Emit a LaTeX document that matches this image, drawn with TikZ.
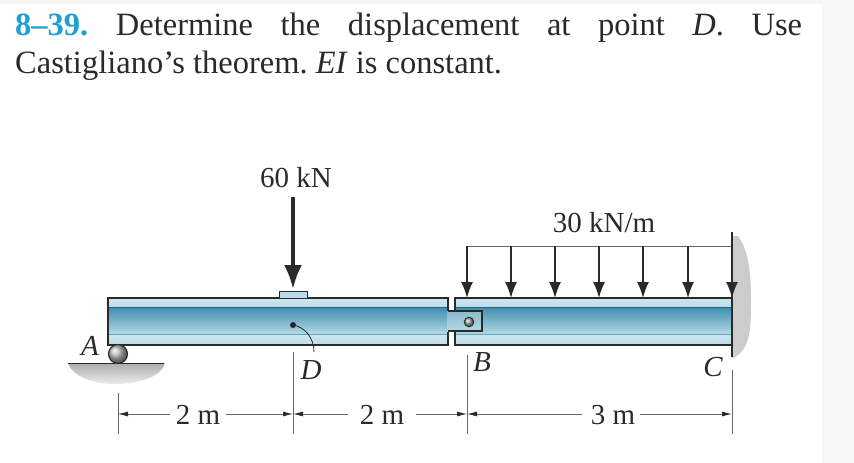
\documentclass[tikz,border=0pt]{standalone}
\usepackage{fontspec}
\setmainfont{Liberation Serif}
\usetikzlibrary{arrows.meta}
\definecolor{pagegray}{HTML}{F6F6F6}
\definecolor{inkdark}{HTML}{2A2A2A}
\definecolor{probblue}{HTML}{1E9FD6}
\definecolor{flange}{HTML}{BBDDE8}
\definecolor{webdark}{HTML}{3E8DAE}
\definecolor{weblight}{HTML}{B4D9E4}
\definecolor{dimgray}{HTML}{666666}
\tikzset{
  headline/.style={anchor=base west,inner sep=0pt,font=\fontsize{32.5}{38}\selectfont\frenchspacing,text=inkdark},
  dimtext/.style={inner sep=0pt,font=\fontsize{29}{32}\selectfont,text=inkdark},
  ptlabel/.style={inner sep=0pt,font=\fontsize{29}{32}\selectfont\itshape,text=inkdark},
  beamedge/.style={draw=inkdark,line width=1.3pt},
  flangefill/.style={top color=flange!70!white,bottom color=flange},
  webfill/.style={top color=webdark,bottom color=weblight},
  tick/.style={draw=dimgray,line width=0.9pt},
  loadarrow/.style={draw=inkdark,line width=1.5pt,-{Latex[length=16pt,width=12pt]}},
  bigarrow/.style={draw=inkdark,line width=3.6pt,-{Latex[length=24pt,width=18pt]}},
  dimline/.style={draw=dimgray,line width=0.9pt},
  dimtipL/.style={{Latex[length=10pt,width=5pt,color=inkdark]}-},
  dimtipR/.style={-{Latex[length=10pt,width=5pt,color=inkdark]}}
}
\begin{document}
\begin{tikzpicture}[x=1pt,y=-1pt]
\useasboundingbox (0,0) rectangle (854,463);
\fill[pagegray] (0,0) rectangle (854,463);
\fill[white] (0,4) rectangle (822,463);
% heading
\node[headline] (line1) at (15,35) {\makebox[787pt][s]{\textcolor{probblue}{\textbf{8–39.}} Determine the displacement at point \textit{D}. Use}};
\node[headline] (line2) at (15,73) {Castigliano’s theorem. \textit{EI} is constant.};
% wall
\fill[gray!40] (732,236) -- (738,236) .. controls (748,250) and (751,270) .. (751,300) .. controls (751,330) and (750,350) .. (733,358) -- (732,358) -- cycle;
% ground
\shade[top color=gray!65,bottom color=gray!15] (68,363) -- (165,363) .. controls (162,376) and (140,384) .. (115,384) .. controls (92,384) and (72,376) .. (68,363) -- cycle;
% left beam
\shade[flangefill] (108,298) rectangle (448,307);
\shade[webfill] (108,307) rectangle (448,334);
\shade[flangefill] (108,334) rectangle (448,345);
% right beam
\shade[flangefill] (455,298) rectangle (732,307);
\shade[webfill] (455,307) rectangle (732,334);
\shade[flangefill] (455,334) rectangle (732,345);
\draw[draw=webdark!70!black,line width=0.9pt] (108,307) -- (448,307) (455,307) -- (732,307);
\draw[draw=webdark!80!white,line width=0.9pt] (108,334) -- (448,334) (455,334) -- (732,334);
\draw[beamedge] (448,311) -- (448,298) -- (108,298) -- (108,345) -- (448,345) -- (448,331);
\draw[beamedge] (455,311) -- (455,298) -- (732,298) (732,345) -- (455,345) -- (455,331);
% tab
\shade[top color=webdark!60!white,bottom color=weblight] (447,311.5) rectangle (482,331);
\draw[beamedge] (448,311) -- (482,311) -- (482,331) -- (448,331);
\shade[ball color=gray!70] (469,322) circle (4.5pt);
\draw[inkdark,line width=0.9pt] (469,322) circle (4.8pt);
% wall line
\coordinate (wallT) at (732,232);
\coordinate (wallB) at (732,357);
\draw[inkdark,line width=1.5pt] (wallT) -- (wallB);
% roller
\shade[ball color=gray!55] (118,354) circle (9.5pt);
\draw[inkdark,line width=1.1pt] (118,354) circle (9.5pt);
\coordinate (gL) at (68,363);
\coordinate (gR) at (164,363);
\draw[inkdark,line width=1pt] (gL) -- (gR);
% plate and 60 kN
\filldraw[fill=flange,draw=inkdark,line width=0.7pt] (279,298) -- (279,291) -- (307,291) -- (307,298);
\coordinate (pTop) at (293,197);
\coordinate (pEnd) at (293,289);
\draw[bigarrow] (pTop) -- (pEnd);
% point D
\coordinate (dDot) at (293,325);
\coordinate (dEnd) at (314,352);
\fill[black!85] (dDot) circle (3pt);
\draw[inkdark,line width=0.8pt] (dDot) .. controls (305,327) and (314,338) .. (dEnd);
% distributed load
\coordinate (l0) at (467,246);
\coordinate (l1) at (511,246);
\coordinate (l2) at (555,246);
\coordinate (l3) at (599,246);
\coordinate (l4) at (643,246);
\coordinate (l5) at (688,246);
\coordinate (l6) at (732,246);
\coordinate (b0) at (467,298);
\coordinate (b1) at (511,298);
\coordinate (b2) at (555,298);
\coordinate (b3) at (599,298);
\coordinate (b4) at (643,298);
\coordinate (b5) at (688,298);
\coordinate (b6) at (732,298);
\draw[draw=dimgray,line width=1pt] (l0) -- (l6);
\foreach \i in {0,...,6} \draw[loadarrow] (l\i) -- (b\i);
% dimension ticks
\coordinate (tA1) at (118,393); \coordinate (tA2) at (118,434);
\coordinate (tD1) at (293,352); \coordinate (tD2) at (293,434);
\coordinate (tB1) at (467,355); \coordinate (tB2) at (467,434);
\coordinate (tC1) at (732,370); \coordinate (tC2) at (732,434);
\draw[tick] (tA1) -- (tA2);
\draw[tick] (tD1) -- (tD2);
\draw[tick] (tB1) -- (tB2);
\draw[tick] (tC1) -- (tC2);
% dimension labels
\node[dimtext] (dim1) at (198,415) {2 m};
\node[dimtext] (dim2) at (382,415) {2 m};
\node[dimtext] (dim3) at (613,415) {3 m};
\coordinate (aA) at (118,414); \coordinate (aD) at (293,414);
\coordinate (aB) at (467,414); \coordinate (aC) at (732,414);
\coordinate (d1a) at (170,414); \coordinate (d1b) at (226,414);
\coordinate (d2a) at (348,414); \coordinate (d2b) at (416,414);
\coordinate (d3a) at (582,414); \coordinate (d3b) at (640,414);
% dimension lines
\draw[dimline,dimtipL] (aA) -- (d1a);
\draw[dimline,dimtipR] (d1b) -- (aD);
\draw[dimline,dimtipL] (aD) -- (d2a);
\draw[dimline,dimtipR] (d2b) -- (aB);
\draw[dimline,dimtipL] (aB) -- (d3a);
\draw[dimline,dimtipR] (d3b) -- (aC);
% labels
\node[dimtext] (p60) at (296,178) {60 kN};
\node[dimtext] (w30) at (604,223) {30 kN/m};
\node[ptlabel] (labA) at (90,346) {A};
\node[ptlabel] (labD) at (311,370) {D};
\node[ptlabel] (labB) at (482,362) {B};
\node[ptlabel] (labC) at (713,367) {C};
\end{tikzpicture}
\end{document}
